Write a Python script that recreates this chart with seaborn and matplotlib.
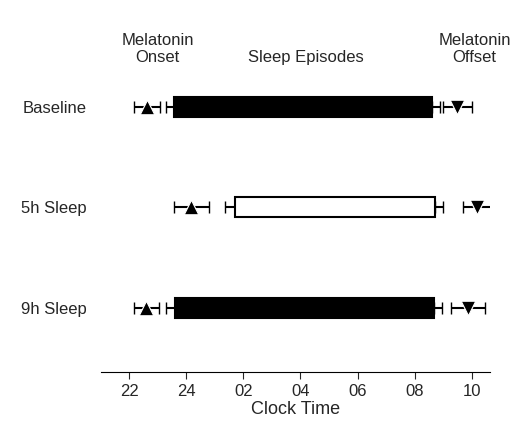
import matplotlib
matplotlib.use("Agg")
import matplotlib.pyplot as plt
import seaborn as sns
import pandas as pd

conditions = ["Baseline", "5h Sleep", "9h Sleep"]
onset = [22.63, 24.18, 22.6]
onset_err = [0.45, 0.6, 0.45]
sleep_start = [23.58, 25.7, 23.6]
sleep_end = [32.6, 32.7, 32.67]
start_err = [0.3, 0.35, 0.3]
end_err = [0.3, 0.3, 0.3]
offset = [33.5, 34.2, 33.86]
offset_err = [0.5, 0.5, 0.6]
filled = [True, False, True]
tick_vals = [22, 24, 26, 28, 30, 32, 34]
tick_labels = ["22", "24", "02", "04", "06", "08", "10"]

df = pd.DataFrame({"cond": conditions, "onset": onset, "offset": offset})
sns.set_style("white")
plt.rcParams['font.family'] = ['Liberation Sans', 'DejaVu Sans']
fig, ax = plt.subplots(figsize=(5.3, 4.36), dpi=100)
fig.subplots_adjust(left=0.19, right=0.925, top=0.84, bottom=0.147)
ys = [0, 1, 2]
for i, y in enumerate(ys):
    ax.barh(y, sleep_end[i] - sleep_start[i], left=sleep_start[i], height=0.2,
            color="black" if filled[i] else "white", edgecolor="black", linewidth=1.5, zorder=2)
    ax.errorbar([sleep_start[i]], [y], xerr=[[start_err[i]], [0]], color="black", capsize=4, lw=1.5, zorder=1)
    ax.errorbar([sleep_end[i]], [y], xerr=[[0], [end_err[i]]], color="black", capsize=4, lw=1.5, zorder=1)
    ax.errorbar([onset[i]], [y], xerr=onset_err[i], color="black", capsize=4, lw=1.5)
    ax.errorbar([offset[i]], [y], xerr=offset_err[i], color="black", capsize=4, lw=1.5)
sns.scatterplot(data=df, x="onset", y=ys, marker="^", s=110, color="black", ax=ax, zorder=3)
sns.scatterplot(data=df, x="offset", y=ys, marker="v", s=110, color="black", ax=ax, zorder=3)
ax.set_ylim(2.64, -0.37)
ax.set_xlim(21.0, 34.65)
ax.set_yticks(ys)
ax.set_yticklabels(conditions, fontsize=12)
ax.set_xticks(tick_vals)
ax.set_xticklabels(tick_labels, fontsize=12)
ax.tick_params(axis="y", length=0, pad=10)
ax.tick_params(axis="x", direction="out", length=5, bottom=True)
ax.set_xlabel("Clock Time", fontsize=13, labelpad=2)
ax.set_ylabel("")
for s in ["top", "right", "left"]:
    ax.spines[s].set_visible(False)
ax.spines["bottom"].set_color("black")
kw = dict(ha="center", va="bottom", fontsize=12, linespacing=1.15, clip_on=False)
ax.text(23.0, -0.42, "Melatonin\nOnset", **kw)
ax.text(28.2, -0.42, "Sleep Episodes", **kw)
ax.text(34.1, -0.42, "Melatonin\nOffset", **kw)
fig.savefig("out.png", dpi=100)
